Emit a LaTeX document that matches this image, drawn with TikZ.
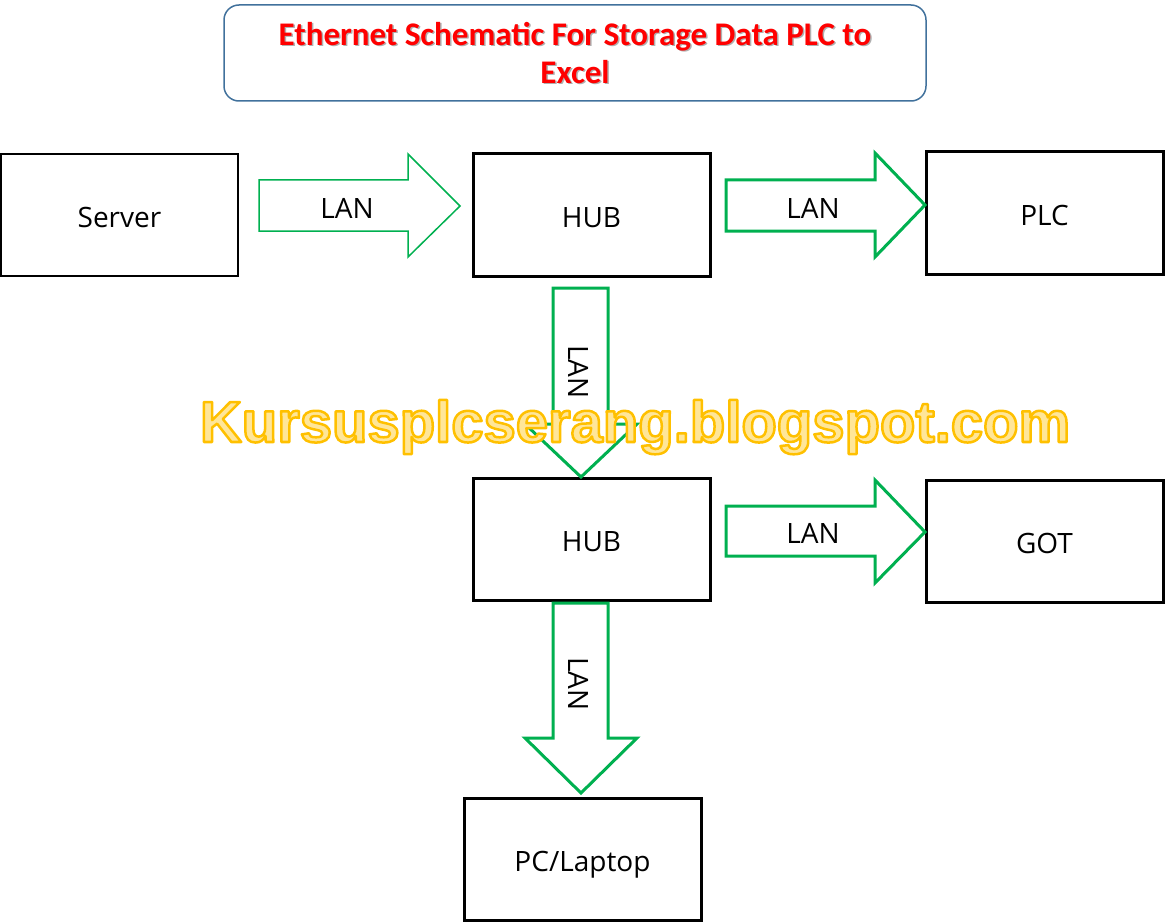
\documentclass[tikz,border=0pt]{standalone}
\usepackage{fontspec}
\setmainfont{Open Sans}
\newfontfamily\titlefont{Carlito}
\newfontfamily\wmfont{Liberation Sans}
\definecolor{lgreen}{HTML}{00B050}
\definecolor{tblue}{HTML}{41719C}
\definecolor{wmfill}{HTML}{FFE699}
\definecolor{tshadow}{HTML}{B0B0B0}
\begin{document}
\begin{tikzpicture}[x=1pt,y=-1pt,
  box/.style={draw, line width=3pt, minimum width=237pt, minimum height=122pt,
    inner sep=0pt, text height=24pt, text depth=0pt, font=\fontsize{28}{32}\selectfont},
  thinbox/.style={box, line width=1.5pt},
  blockarrow/.style={draw=lgreen, line width=3pt, fill=white, line join=miter},
  thinarrow/.style={blockarrow, line width=1.5pt},
  lbl/.style={font=\fontsize{28}{32}\selectfont, inner sep=0pt},
  titletext/.style={font=\titlefont\bfseries\fontsize{33}{38}\selectfont, align=center}]
\useasboundingbox (0,0) rectangle (1165,923);

% title
\draw[tblue, line width=1.5pt, rounded corners=15pt] (224,5) rectangle (926,101);
\node[titletext, text=tshadow] (titleshadow) at (576.5,54.5) {Ethernet Schematic For Storage Data PLC to\\Excel};
\node[titletext, text=red] (title) at (575,53) {Ethernet Schematic For Storage Data PLC to\\Excel};

% boxes
\node[thinbox] (server) at (119.5,215) {Server};
\node[box] (hub1) at (591.5,215) {HUB};
\node[box] (plc) at (1044.5,213) {PLC};
\node[box] (hub2) at (591.5,539.5) {HUB};
\node[box] (got) at (1044.5,541.5) {GOT};
\node[box] (pc) at (582.5,859) {PC/Laptop};

% block arrows
\draw[thinarrow] (259,180) -- (408,180) -- (408,154) -- (460,206) -- (408,257) -- (408,231) -- (259,231) -- cycle;
\draw[blockarrow] (726,180) -- (875,180) -- (875,153) -- (925,205) -- (875,257) -- (875,231) -- (726,231) -- cycle;
\draw[blockarrow] (726,506) -- (875,506) -- (875,480) -- (925,532) -- (875,583) -- (875,556) -- (726,556) -- cycle;
\draw[blockarrow] (553,288) -- (608,288) -- (608,424) -- (637,424) -- (581,477) -- (525,424) -- (553,424) -- cycle;
\draw[blockarrow] (553,603) -- (608,603) -- (608,738) -- (637,738) -- (581,793) -- (525,738) -- (553,738) -- cycle;

% labels
\node[lbl] (lan1) at (347,208) {LAN};
\node[lbl] (lan2) at (813,208) {LAN};
\node[lbl] (lan4) at (813,533) {LAN};
\node[lbl, rotate=-90] (lan3) at (579,372) {LAN};
\node[lbl, rotate=-90] (lan5) at (579,684) {LAN};

% watermark
\node[font=\wmfont\bfseries\fontsize{58}{66}\selectfont, text=wmfill, anchor=base, inner sep=0pt] (wm) at (635,442)
  {\special{pdf:literal direct 1 0.753 0 RG 2.5 w 1 j 2 Tr}Kursusplcserang.blogspot.com\special{pdf:literal direct 0 Tr}};
\end{tikzpicture}
\end{document}
